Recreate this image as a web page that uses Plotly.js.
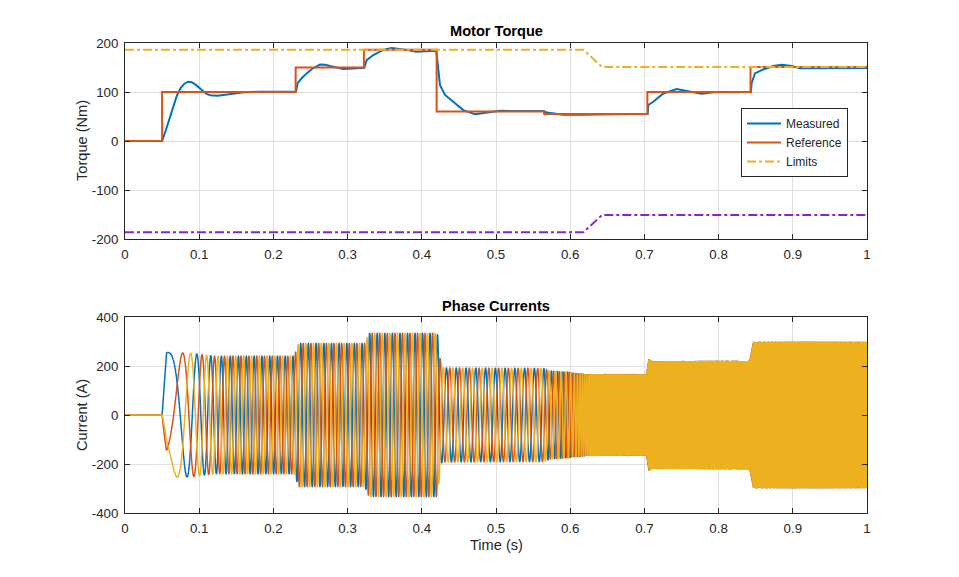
<!DOCTYPE html>
<html>
<head>
<meta charset="utf-8">
<script src="https://cdn.plot.ly/plotly-3.0.1.min.js"></script>
<style>html,body{margin:0;padding:0;background:#fff;}#chart{width:959px;height:577px;}</style>
</head>
<body>
<div id="chart"></div>
<script>
// ---------- Motor torque data ----------
const tMeas = [0, 0.05, 0.055, 0.06, 0.065, 0.07, 0.075, 0.08, 0.085, 0.09, 0.095, 0.1, 0.105, 0.11, 0.115, 0.12, 0.125, 0.13, 0.14, 0.15, 0.16, 0.18, 0.2, 0.23,
  0.2305, 0.2327, 0.238, 0.2448, 0.252, 0.2628, 0.27, 0.2763, 0.285, 0.294, 0.3077, 0.3225,
  0.3257, 0.3346, 0.3481, 0.3594, 0.3751, 0.3931, 0.41, 0.4195,
  0.4223, 0.4245, 0.4313, 0.4425, 0.4559, 0.4717, 0.4874, 0.5054, 0.53, 0.5645,
  0.5683, 0.58, 0.5907, 0.613, 0.65, 0.7045,
  0.7053, 0.712, 0.7255, 0.7435, 0.757, 0.7772, 0.7929, 0.82, 0.8435,
  0.8445, 0.849, 0.8602, 0.8737, 0.885, 0.8985, 0.9097, 0.9276, 0.96, 1.0];
const torqueMeas = [0, 0, 22, 45, 70, 93, 108, 117, 121, 120, 115, 108, 101, 96, 93.5, 92.5, 92.5, 93.5, 96, 98, 99.5, 100.5, 100.5, 100,
  101, 118, 128, 138, 147, 156, 155.5, 153, 149.5, 147, 148, 149.5,
  165, 175.5, 186, 190, 187, 182, 183.5, 184,
  145, 114, 94, 80, 63, 54.5, 58, 61.5, 61, 61,
  58, 55, 53.5, 53.5, 54.5, 55.5,
  73.5, 80, 97, 106, 102, 96.5, 99.4, 100, 100,
  118, 138, 146, 153, 155.7, 153, 148.5, 148.5, 149, 149];

const tRef = [0, 0.05, 0.23, 0.322, 0.42, 0.565, 0.704, 0.843, 1.0];
const torqueRef = [0, 100, 150, 186, 60, 55, 100, 151, 151];

const tLim = [0, 0.618, 0.643, 1.0];
const limUpper = [186, 186, 151, 151];
const limLower = [-186, -186, -151, -151];

// ---------- Phase current data ----------
// amplitude envelope breakpoints
const ampTime = [0, 0.05, 0.056, 0.09, 0.12, 0.228, 0.234, 0.323, 0.329, 0.421, 0.426, 0.43, 0.565, 0.572, 0.6, 0.62, 0.703, 0.706, 0.71, 0.842, 0.847, 1.0];
const ampValue = [0, 0, 255, 252, 240, 240, 292, 292, 333, 333, 196, 192, 190, 180, 173, 167, 167, 228, 220, 222, 299, 299];
// electrical frequency (as seen) breakpoints
const freqTime = [0.05, 0.1, 0.125, 0.14, 0.16, 0.23, 0.42, 0.43, 0.56, 0.6, 0.625, 0.65, 1.0];
const freqValue = [0, 47, 72, 88, 95, 96, 99, 76, 76, 170, 400, 900, 1000];
const startPhase = 0.22;   // cycles at t = 0.05
const phaseShift = [0, -1/3, 1/3]; // blue, orange, yellow (cycles)

// tick labels
const xTicks = [0, 0.1, 0.2, 0.3, 0.4, 0.5, 0.6, 0.7, 0.8, 0.9, 1];
const xTickText = ['0', '0.1', '0.2', '0.3', '0.4', '0.5', '0.6', '0.7', '0.8', '0.9', '1'];
const yTicksTop = [-200, -100, 0, 100, 200];
const yTickTextTop = ['-200', '-100', '0', '100', '200'];
const yTicksBot = [-400, -200, 0, 200, 400];
const yTickTextBot = ['-400', '-200', '0', '200', '400'];

// ---------- build current waveforms ----------
function interp(xs, ys, x) {
  if (x <= xs[0]) return ys[0];
  for (let i = 1; i < xs.length; i++) {
    if (x <= xs[i]) {
      const f = (x - xs[i - 1]) / (xs[i] - xs[i - 1]);
      return ys[i - 1] + f * (ys[i] - ys[i - 1]);
    }
  }
  return ys[ys.length - 1];
}
const dt = 5e-5;
const tCur = [], cur = [[], [], []];
let phase = startPhase;
for (let k = 0; k <= Math.round(1 / dt); k++) {
  const t = k * dt;
  if (t > 0.05) phase += interp(freqTime, freqValue, t - dt / 2) * dt;
  const A = interp(ampTime, ampValue, t);
  tCur.push(t);
  for (let p = 0; p < 3; p++) cur[p].push(A * Math.sin(2 * Math.PI * (phase + phaseShift[p])));
}

const C = {blue: '#0072BD', orange: '#D95319', yellow: '#EDB120', purple: '#8A22D4'};
const dashDot = '9px,3px,3px,3px';
const FONT = 'Liberation Sans, Arial, Helvetica, sans-serif';

const traces = [
  {x: tMeas, y: torqueMeas, name: 'Measured', type: 'scatter', mode: 'lines', line: {color: C.blue, width: 2}, xaxis: 'x', yaxis: 'y'},
  {x: tRef, y: torqueRef, name: 'Reference', type: 'scatter', mode: 'lines', line: {color: C.orange, width: 2, shape: 'hv'}, xaxis: 'x', yaxis: 'y'},
  {x: tLim, y: limUpper, name: 'Limits', type: 'scatter', mode: 'lines', line: {color: C.yellow, width: 2, dash: dashDot}, xaxis: 'x', yaxis: 'y'},
  {x: tLim, y: limLower, name: 'Lower limit', showlegend: false, type: 'scatter', mode: 'lines', line: {color: C.purple, width: 2, dash: dashDot}, xaxis: 'x', yaxis: 'y'},
  {x: tCur, y: cur[0], name: 'Phase A', showlegend: false, type: 'scatter', mode: 'lines', line: {color: C.blue, width: 1.5, simplify: false}, xaxis: 'x2', yaxis: 'y2'},
  {x: tCur, y: cur[1], name: 'Phase B', showlegend: false, type: 'scatter', mode: 'lines', line: {color: C.orange, width: 1.5, simplify: false}, xaxis: 'x2', yaxis: 'y2'},
  {x: tCur, y: cur[2], name: 'Phase C', showlegend: false, type: 'scatter', mode: 'lines', line: {color: C.yellow, width: 1.5, simplify: false}, xaxis: 'x2', yaxis: 'y2'}
];

const W = 959, H = 577;
const axCommon = {
  showline: true, mirror: 'allticks', linecolor: '#262626', linewidth: 1,
  ticks: 'inside', ticklen: 5, tickwidth: 1, tickcolor: '#262626',
  showgrid: true, gridcolor: '#dfdfdf', gridwidth: 1, zeroline: false,
  tickfont: {family: FONT, size: 13.3, color: '#262626'},
  fixedrange: true
};
const xDomain = [125 / W, 867 / W];
const layout = {
  width: W, height: H,
  margin: {l: 0, r: 0, t: 0, b: 0},
  paper_bgcolor: '#ffffff', plot_bgcolor: '#ffffff',
  showlegend: true,
  font: {family: FONT, color: '#262626'},
  xaxis: Object.assign({}, axCommon, {domain: xDomain, anchor: 'y', range: [0, 1], tickvals: xTicks, ticktext: xTickText, ticklabelstandoff: 3}),
  yaxis: Object.assign({}, axCommon, {domain: [1 - 239 / H, 1 - 43 / H], anchor: 'x', range: [-200, 200], tickvals: yTicksTop, ticktext: yTickTextTop, ticklabelstandoff: 3}),
  xaxis2: Object.assign({}, axCommon, {domain: xDomain, anchor: 'y2', range: [0, 1], tickvals: xTicks, ticktext: xTickText, ticklabelstandoff: 3}),
  yaxis2: Object.assign({}, axCommon, {domain: [1 - 513 / H, 1 - 317 / H], anchor: 'x2', range: [-400, 400], tickvals: yTicksBot, ticktext: yTickTextBot, ticklabelstandoff: 3}),
  legend: {
    x: 741 / W, y: 1 - 108 / H, xanchor: 'left', yanchor: 'top',
    bgcolor: '#ffffff', bordercolor: '#262626', borderwidth: 1,
    font: {family: FONT, size: 12, color: '#262626'},
    itemwidth: 34, tracegroupgap: 0
  },
  annotations: [
    {text: '<b>Motor Torque</b>', xref: 'paper', yref: 'paper', x: 496 / W, y: 1 - 31 / H, xanchor: 'center', yanchor: 'middle', showarrow: false, font: {family: FONT, size: 14.6, color: '#000000'}},
    {text: '<b>Phase Currents</b>', xref: 'paper', yref: 'paper', x: 496 / W, y: 1 - 306 / H, xanchor: 'center', yanchor: 'middle', showarrow: false, font: {family: FONT, size: 14.6, color: '#000000'}},
    {text: 'Torque (Nm)', xref: 'paper', yref: 'paper', x: 82 / W, y: 1 - 141 / H, xanchor: 'center', yanchor: 'middle', textangle: -90, showarrow: false, font: {family: FONT, size: 14.6, color: '#262626'}},
    {text: 'Current (A)', xref: 'paper', yref: 'paper', x: 82 / W, y: 1 - 415 / H, xanchor: 'center', yanchor: 'middle', textangle: -90, showarrow: false, font: {family: FONT, size: 14.6, color: '#262626'}},
    {text: 'Time (s)', xref: 'paper', yref: 'paper', x: 496 / W, y: 1 - 545 / H, xanchor: 'center', yanchor: 'middle', showarrow: false, font: {family: FONT, size: 14.6, color: '#262626'}}
  ]
};

Plotly.newPlot('chart', traces, layout, {staticPlot: true, displayModeBar: false});
</script>
</body>
</html>
